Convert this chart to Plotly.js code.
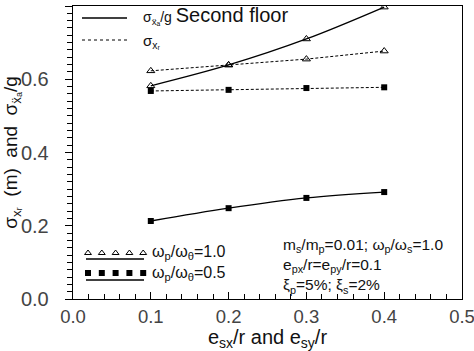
<!DOCTYPE html>
<html><head><meta charset="utf-8">
<script src="https://cdn.plot.ly/plotly-3.0.1.min.js"></script>
<style>body{margin:0;background:#fff}#c{width:474px;height:351px}</style>
</head><body><div id="c"></div>
<script>
const esx = [0.1, 0.2, 0.3, 0.4];
const accel_w10 = [0.582, 0.639, 0.710, 0.797];   // solid, triangles
const disp_w10  = [0.623, 0.639, 0.655, 0.677];   // dashed, triangles
const disp_w05  = [0.568, 0.571, 0.576, 0.578];   // dashed, squares
const accel_w05 = [0.213, 0.248, 0.276, 0.292];   // solid, squares

const tri = {symbol:'triangle-up-open', size:7, color:'#000', line:{width:1,color:'#000'}};
const sq = {symbol:'square', size:6, color:'#000'};
const font = 'Liberation Sans, Arial, sans-serif';

const traces = [
 {x:esx, y:accel_w10, mode:'lines+markers', line:{color:'#000',width:1.3,shape:'spline'}, marker:tri, showlegend:false},
 {x:esx, y:disp_w10, mode:'lines+markers', line:{color:'#000',width:1,dash:'3px,2px'}, marker:tri, showlegend:false},
 {x:esx, y:disp_w05, mode:'lines+markers', line:{color:'#000',width:1,dash:'3px,2px'}, marker:sq, showlegend:false},
 {x:esx, y:accel_w05, mode:'lines+markers', line:{color:'#000',width:1.3,shape:'spline'}, marker:sq, showlegend:false}
];

function px2x(p){return (p-73)/(462-73);}
function px2y(p){return (299-p)/(299-6);}
const lx=[];
for(let i=0;i<5;i++){ lx.push(px2x(88+i*13.8)); }
traces.push({x:lx, y:lx.map(()=>px2y(253)), xaxis:'x2', yaxis:'y2', mode:'markers', marker:{symbol:'triangle-up-open',size:6,color:'#000',line:{width:1,color:'#000'}}, showlegend:false, hoverinfo:'skip'});
traces.push({x:lx, y:lx.map(()=>px2y(273)), xaxis:'x2', yaxis:'y2', mode:'markers', marker:{symbol:'square',size:6,color:'#000'}, showlegend:false, hoverinfo:'skip'});

function hline(x0,x1,y,dash,w){return {type:'line', xref:'paper', yref:'paper', x0:px2x(x0), x1:px2x(x1), y0:px2y(y), y1:px2y(y), line:{color:'#000', width:w||1.3, dash:dash||'solid'}};}

const ann = (x,y,text,size,va)=>({xref:'paper',yref:'paper',x:px2x(x),y:px2y(y),xanchor:'left',yanchor:va||'middle',align:'left',text:text,showarrow:false,font:{family:font,size:size||14,color:'#111'}});

const layout = {
 width:474, height:351,
 margin:{l:73, r:12, t:6, b:52},
 paper_bgcolor:'#fff', plot_bgcolor:'#fff',
 font:{family:font, size:20, color:'#444'},
 xaxis:{range:[0,0.5], dtick:0.1, tickformat:'.1f', ticks:'inside', ticklen:7, tickcolor:'#000', showgrid:false, zeroline:false,
   showline:true, linecolor:'#000', linewidth:1.3, mirror:true, ticklabeloverflow:'allow', tickfont:{size:18.5},
   minor:{dtick:0.02, ticks:'inside', ticklen:5, tickcolor:'#000', showgrid:false},
   title:{text:'e<sub>sx</sub>/r and e<sub>sy</sub>/r', font:{size:20,color:'#111'}, standoff:2}},
 yaxis:{range:[0,0.8], dtick:0.2, tickformat:'.1f', ticks:'outside', ticklen:7, tickcolor:'#000', showgrid:false, zeroline:false,
   showline:true, linecolor:'#000', linewidth:1.3, mirror:true, ticklabelstandoff:12,
   minor:{dtick:0.02, ticks:'outside', ticklen:5, tickcolor:'#000', showgrid:false},
   title:{text:'σ<sub>xᵣ</sub>  (m)  and  σ<sub>ẍₐ</sub>/g', font:{size:19,color:'#111'}, standoff:2}},
 xaxis2:{overlaying:'x', range:[0,1], visible:false, fixedrange:true},
 yaxis2:{overlaying:'y', range:[0,1], visible:false, fixedrange:true},
 shapes:[
   hline(82,127,18,'solid'),
   hline(82,127,40,'3px,3px',1),
   hline(86,144,259,'solid'),
   hline(86,144,280,'solid')
 ],
 annotations:[
   ann(141,16,'σ<sub>ẍₐ</sub>/g <span style="font-size:20px">Second floor</span>',14),
   ann(141,41,'σ<sub>xᵣ</sub>',15),
   ann(150,263,'ω<sub>p</sub>/ω<sub>θ</sub>=1.0<br>ω<sub>p</sub>/ω<sub>θ</sub>=0.5',16),
   ann(281,266,'m<sub>s</sub>/m<sub>p</sub>=0.01; ω<sub>p</sub>/ω<sub>s</sub>=1.0<br>e<sub>px</sub>/r=e<sub>py</sub>/r=0.1<br>ξ<sub>p</sub>=5%; ξ<sub>s</sub>=2%',15.5)
 ]
};
Plotly.newPlot('c', traces, layout, {staticPlot:true, displayModeBar:false});
</script></body></html>
